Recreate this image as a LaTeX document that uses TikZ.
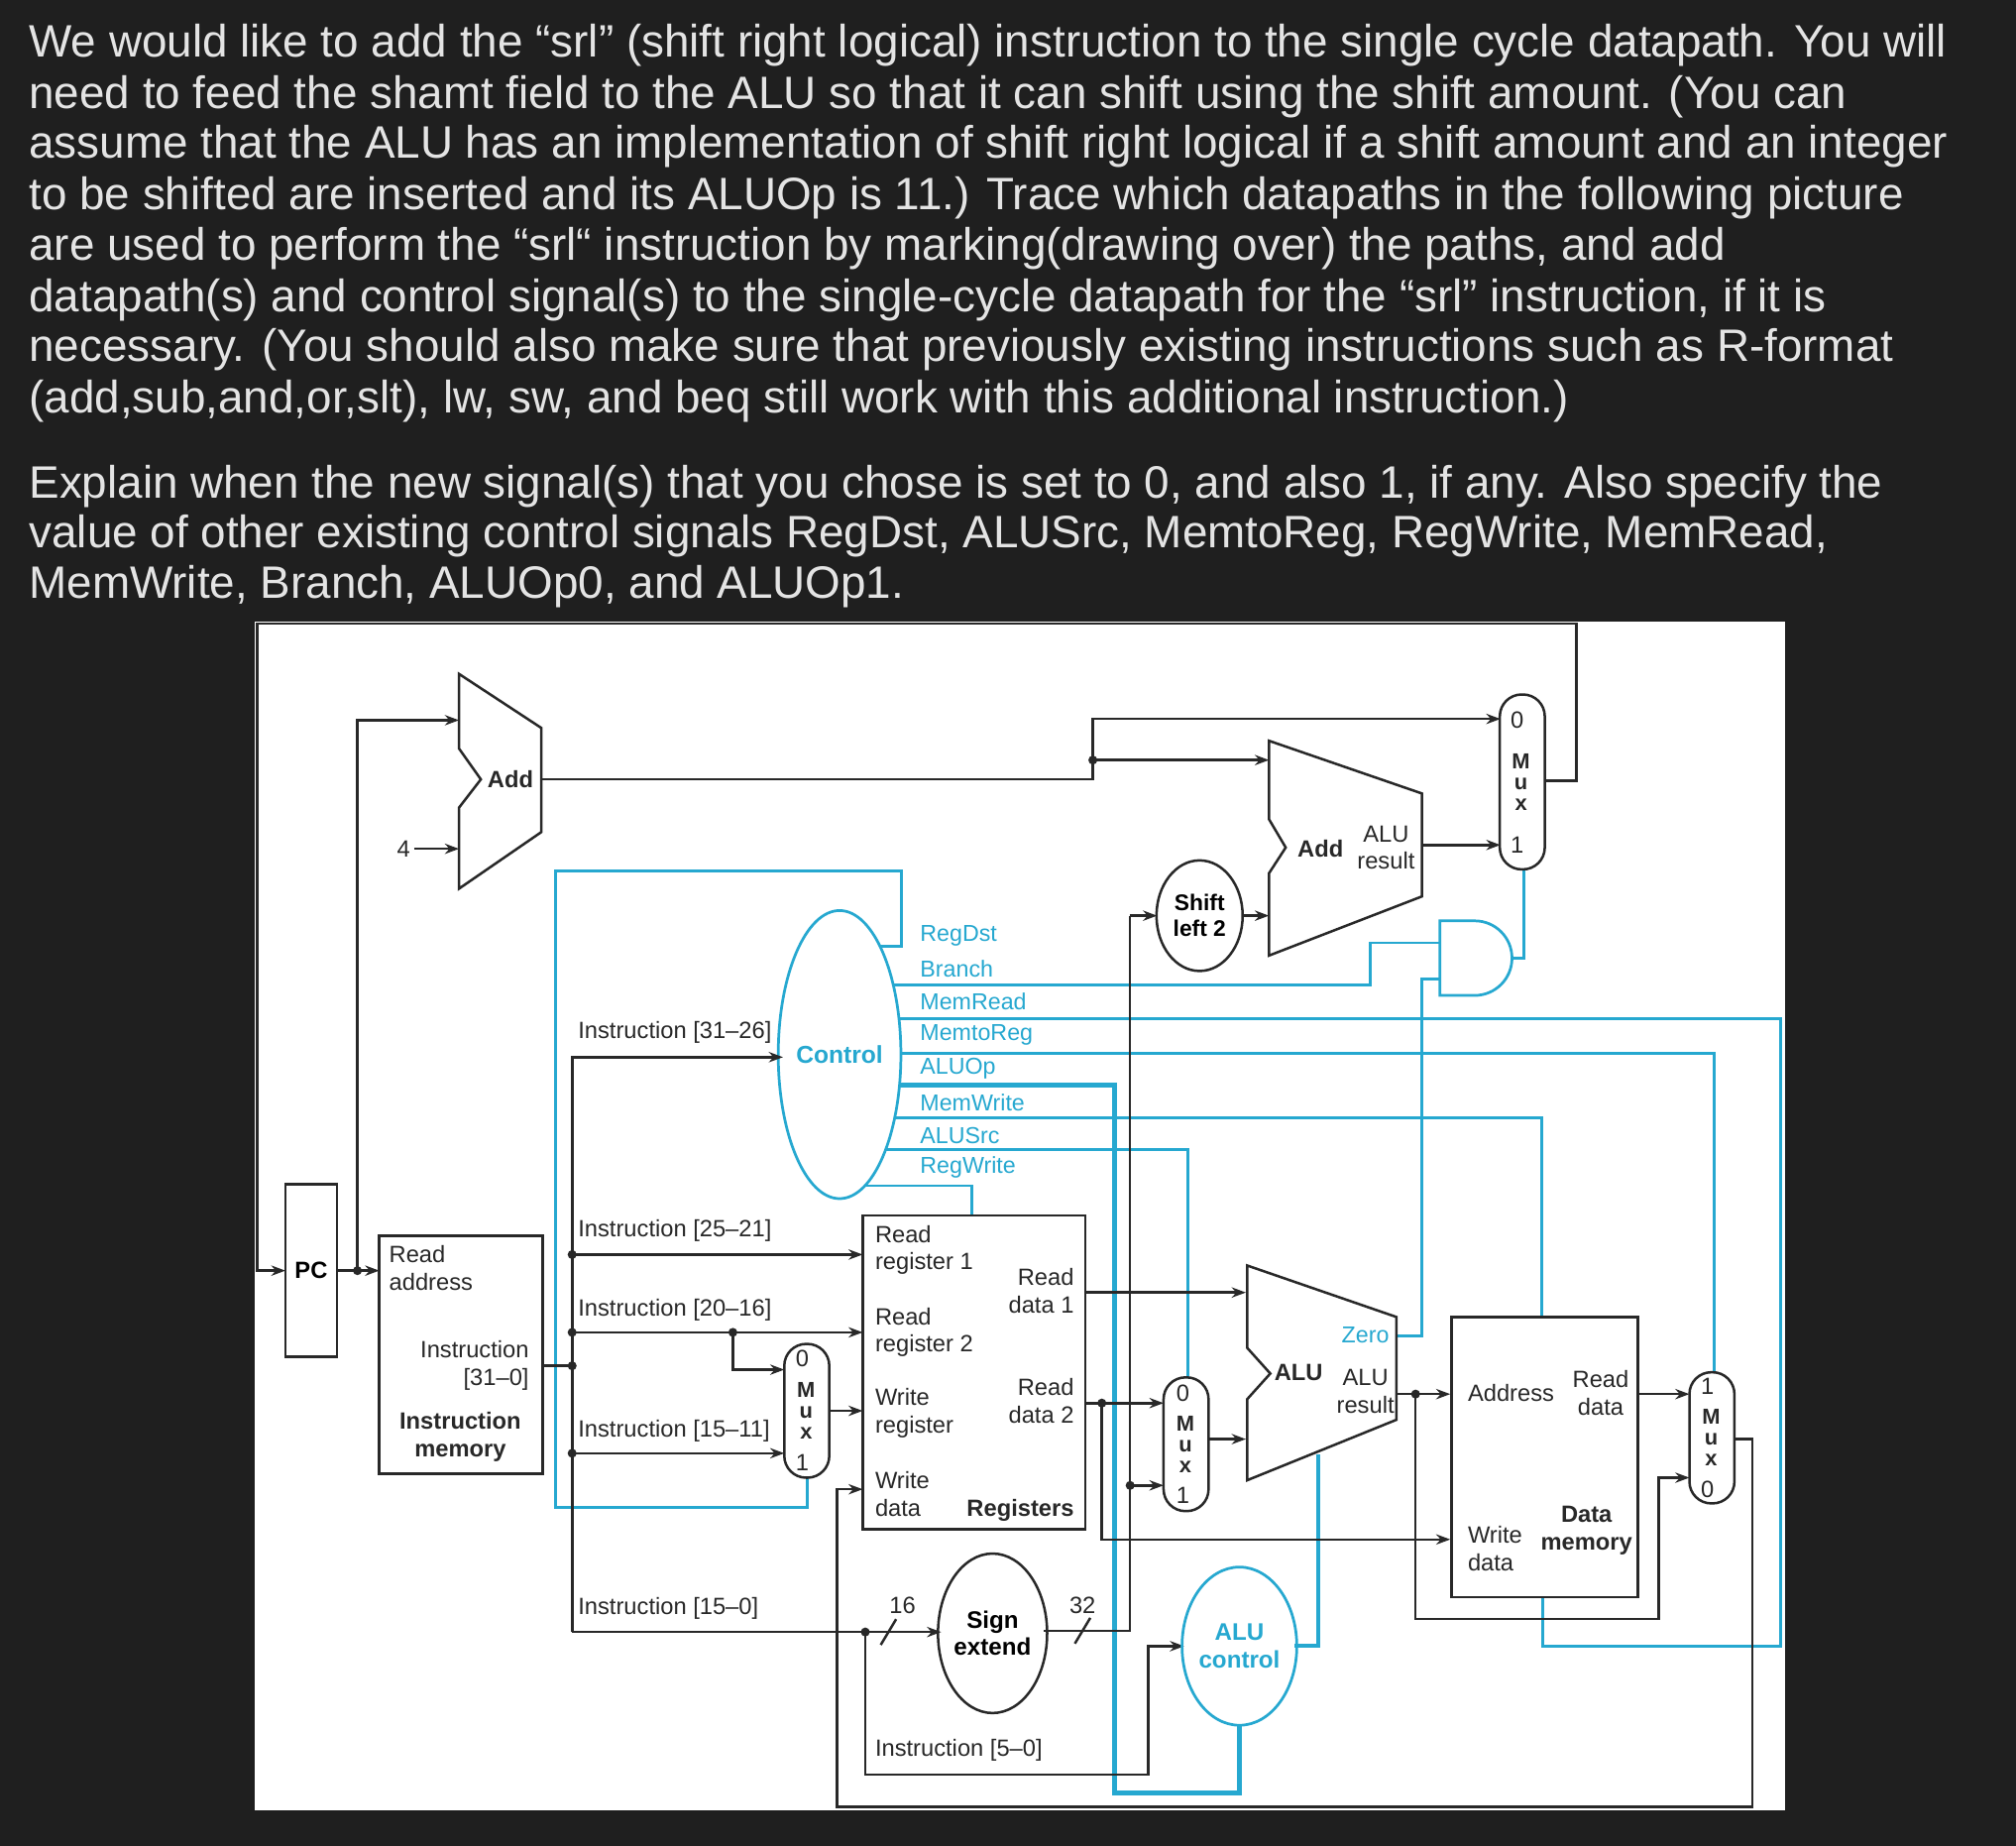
\documentclass[tikz,border=0pt]{standalone}
\usepackage{fontspec}
\setmainfont{Liberation Sans}
\usetikzlibrary{arrows.meta,shapes.geometric}
\definecolor{bg}{RGB}{31,31,31}
\definecolor{txt}{RGB}{228,228,228}
\definecolor{ctl}{RGB}{38,168,208}
\definecolor{wire}{RGB}{40,40,40}
\tikzset{
  ln/.style={draw=wire,line width=0.55pt},
  bl/.style={draw=ctl,line width=0.6pt},
  bthick/.style={draw=ctl,line width=1.1pt},
  arr/.style={-{Stealth[length=1.1mm,width=0.8mm]}},
  lbl/.style={font=\fontsize{5.2}{6.1}\selectfont,inner sep=0pt,text=wire},
  clbl/.style={font=\fontsize{5.1}{6}\selectfont,inner sep=0pt,text=ctl},
  para/.style={font=\fontsize{10.05}{12}\selectfont,text=txt,inner sep=0pt,anchor=west},
  muxbox/.style={draw=wire,line width=0.55pt,rounded corners=1.7mm,fill=white,minimum width=3.5mm,inner sep=0pt},
  dotc/.style={fill=wire}
}
\begin{document}
\begin{tikzpicture}[x=0.1mm,y=-0.1mm]
\fill[bg] (0,0) rectangle (1568,1435);
\useasboundingbox (0,0) rectangle (1568,1435);
% paragraph
\node[para] (p1) at (22,35) {We would like to add the “srl” (shift right logical) instruction to the single cycle datapath. You will};
\node[para] (p2) at (22,75) {need to feed the shamt field to the ALU so that it can shift using the shift amount. (You can};
\node[para] (p3) at (22,114) {assume that the ALU has an implementation of shift right logical if a shift amount and an integer};
\node[para] (p4) at (22,154) {to be shifted are inserted and its ALUOp is 11.) Trace which datapaths in the following picture};
\node[para] (p5) at (22,193) {are used to perform the “srl“ instruction by marking(drawing over) the paths, and add};
\node[para] (p6) at (22,233) {datapath(s) and control signal(s) to the single-cycle datapath for the “srl” instruction, if it is};
\node[para] (p7) at (22,272) {necessary. (You should also make sure that previously existing instructions such as R-format};
\node[para] (p8) at (22,312) {(add,sub,and,or,slt), lw, sw, and beq still work with this additional instruction.)};
\node[para] (p9) at (22,378) {Explain when the new signal(s) that you chose is set to 0, and also 1, if any. Also specify the};
\node[para] (p10) at (22,417) {value of other existing control signals RegDst, ALUSrc, MemtoReg, RegWrite, MemRead,};
\node[para] (p11) at (22,456) {MemWrite, Branch, ALUOp0, and ALUOp1.};
% panel
\fill[white] (198,483) rectangle (1388,1408);

% ---------- control signal wires (blue) ----------
\draw[bl] (660,736) -- (701,736) -- (701,677) -- (432,677) -- (432,1172) -- (628,1172) -- (628,1149);
\draw[bl] (660,766) -- (1066,766) -- (1066,733) -- (1120,733);
\draw[bl] (660,792) -- (1385,792) -- (1385,1280) -- (1200,1280) -- (1200,1242);
\draw[bl] (660,819) -- (1333,819) -- (1333,1067);
\draw[bthick] (660,844) -- (867,844) -- (867,1394) -- (964,1394) -- (964,1342);
\draw[bl] (660,869) -- (1199,869) -- (1199,1024);
\draw[bl] (660,894) -- (924,894) -- (924,1071);
\draw[bl] (660,922) -- (756,922) -- (756,945);
% AND gate
\draw[bl,fill=white] (1120,716) -- (1147,716) arc[start angle=-90,end angle=90,radius=29] -- (1120,774) -- cycle;
\node[inner sep=0pt] (andg) at (1150,745) {};
\draw[bl] (1176,745) -- (1185,745) -- (1185,676);
\draw[bl] (1086,1039) -- (1106,1039) -- (1106,761) -- (1120,761);
% ALU control out
\draw[bl,line width=0.9pt] (1007,1280) -- (1025,1280) -- (1025,1131);

% Control ellipse
\node[draw=ctl,line width=0.6pt,fill=white,ellipse,minimum width=8.8mm,minimum height=22.4mm,inner sep=0pt,
  font=\bfseries\fontsize{5.4}{6}\selectfont,text=ctl] (ctrl) at (653,820) {Control};
\node[clbl,anchor=west] (sRegDst) at (715,728) {RegDst};
\node[clbl,anchor=west] (sBranch) at (715,753) {Branch};
\node[clbl,anchor=west] (sMemRead) at (715,779) {MemRead};
\node[clbl,anchor=west] (sMemtoReg) at (715,805) {MemtoReg};
\node[clbl,anchor=west] (sALUOp) at (715,831) {ALUOp};
\node[clbl,anchor=west] (sMemWrite) at (715,857) {MemWrite};
\node[clbl,anchor=west] (sALUSrc) at (715,883) {ALUSrc};
\node[clbl,anchor=west] (sRegWrite) at (715,908) {RegWrite};

% ---------- PC and adders ----------
\node[draw=wire,line width=0.55pt,minimum width=4mm,minimum height=13.4mm,inner sep=0pt,font=\bfseries\fontsize{5.2}{6}\selectfont] (pc) at (242,988) {PC};
\draw[ln,arr] (1201,607) -- (1226,607) -- (1226,485) -- (200,485) -- (200,988) -- (222,988);
\draw[ln,arr] (262,988) -- (295,988);
\fill[dotc] (278,988) circle[radius=0.35mm];
\draw[ln,arr] (278,988) -- (278,560) -- (357,560);
% Add PC+4
\draw[ln] (357,524) -- (421,566) -- (421,647) -- (357,691) -- (357,628) -- (374,606) -- (357,582) -- cycle;
\node[lbl,font=\bfseries\fontsize{5.2}{6}\selectfont] (add1) at (397,606) {Add};
\node[lbl] (four) at (314,660) {4};
\draw[ln,arr] (322,660) -- (357,660);
\draw[ln,arr] (421,606) -- (850,606) -- (850,559) -- (1167,559);
\fill[dotc] (850,591) circle[radius=0.35mm];
\draw[ln,arr] (850,591) -- (987,591);
% branch adder
\draw[ln] (987,576) -- (1106,617) -- (1106,697) -- (987,743) -- (987,679) -- (1000,659) -- (987,637) -- cycle;
\node[lbl,font=\bfseries\fontsize{5.2}{6}\selectfont] (add2) at (1027,660) {Add};
\node[lbl,align=center] (add2r) at (1078,659) {ALU\\result};
\draw[ln,arr] (1106,657) -- (1167,657);
% shift left 2
\node[draw=wire,line width=0.55pt,ellipse,minimum width=6.7mm,minimum height=8.6mm,inner sep=0pt,align=center,
  font=\bfseries\fontsize{5}{5.8}\selectfont] (sl2) at (933,712) {Shift\\left 2};
\draw[ln,arr] (967,712) -- (987,712);
% PCSrc mux
\node[muxbox,minimum height=13.6mm] (mpc) at (1184,608) {};
\node[lbl] at (1180,560) {0};
\node[lbl,align=center,font=\bfseries\fontsize{4.8}{4.6}\selectfont] at (1183,608) {M\\u\\x};
\node[lbl] at (1180,657) {1};

% ---------- instruction memory ----------
\draw[ln] (295,961) rectangle (422,1146);
\node[lbl,anchor=west,align=left] (ra) at (302,986) {Read\\address};
\node[lbl,anchor=east,align=right] (i310) at (412,1062) {Instruction\\{}[31--0]};
\node[lbl,align=center,font=\bfseries\fontsize{5.2}{6.1}\selectfont] (imem) at (358,1117) {Instruction\\memory};
\draw[ln] (422,1062) -- (445,1062);
\draw[ln,arr] (445,1269) -- (445,822) -- (609,822);
\foreach \yy in {975.5,1036,1062,1130} \fill[dotc] (445,\yy) circle[radius=0.35mm];
\node[lbl,anchor=west] at (449,803) {Instruction [31--26]};
\node[lbl,anchor=west] at (449,957) {Instruction [25--21]};
\node[lbl,anchor=west] at (449,1019) {Instruction [20--16]};
\node[lbl,anchor=west] at (449,1113) {Instruction [15--11]};
\node[lbl,anchor=west] at (449,1251) {Instruction [15--0]};
\draw[ln,arr] (445,975.5) -- (671,975.5);
\draw[ln,arr] (445,1036) -- (671,1036);
\fill[dotc] (570,1036) circle[radius=0.35mm];
\draw[ln,arr] (570,1036) -- (570,1065) -- (610,1065);
\draw[ln,arr] (445,1130) -- (610,1130);
% RegDst mux
\node[muxbox,minimum height=10.4mm] (mrd) at (627.5,1097) {};
\node[lbl] at (624,1056) {0};
\node[lbl,align=center,font=\bfseries\fontsize{4.8}{4.6}\selectfont] at (627,1097) {M\\u\\x};
\node[lbl] at (624,1137) {1};
\draw[ln,arr] (645,1097) -- (671,1097);

% ---------- registers ----------
\draw[ln] (671,945) rectangle (844,1189);
\node[lbl,anchor=west,align=left] at (680,972) {Read\\register 1};
\node[lbl,anchor=west,align=left] at (680,1036) {Read\\register 2};
\node[lbl,anchor=west,align=left] at (680,1099) {Write\\register};
\node[lbl,anchor=west,align=left] at (680,1162) {Write\\data};
\node[lbl,anchor=east,align=right] at (836,1004) {Read\\data 1};
\node[lbl,anchor=east,align=right] at (836,1089) {Read\\data 2};
\node[lbl,anchor=east,font=\bfseries\fontsize{5.2}{6.1}\selectfont] (regs) at (836,1174) {Registers};
\draw[ln,arr] (844,1005) -- (969,1005);
\draw[ln,arr] (844,1091) -- (905,1091);
\fill[dotc] (857,1091) circle[radius=0.35mm];
\draw[ln,arr] (857,1091) -- (857,1197) -- (1128,1197);
\draw[ln,arr] (1349,1119) -- (1363,1119) -- (1363,1405) -- (651,1405) -- (651,1158) -- (671,1158);

% ---------- sign extend ----------
\node[draw=wire,line width=0.55pt,ellipse,minimum width=8mm,minimum height=12.4mm,inner sep=0pt,align=center,
  font=\bfseries\fontsize{5.3}{6}\selectfont] (sext) at (772,1270) {Sign\\extend};
\draw[ln,arr] (445,1269) -- (732,1269);
\fill[dotc] (673,1269) circle[radius=0.35mm];
\draw[ln] (685,1279) -- (697,1259);
\node[lbl] at (702,1248) {16};
\draw[ln] (812,1268) -- (879,1268) -- (879,712);
\draw[ln,arr] (879,712) -- (900,712);
\draw[ln] (836,1278) -- (848,1258);
\node[lbl] at (842,1248) {32};
\fill[dotc] (879,1155) circle[radius=0.35mm];
\draw[ln,arr] (879,1155) -- (905,1155);
\draw[ln,arr] (673,1269) -- (673,1380) -- (893,1380) -- (893,1280) -- (921,1280);
\node[lbl,anchor=west] at (680,1361) {Instruction [5--0]};
% ALU control
\node[draw=ctl,line width=0.6pt,ellipse,minimum width=8.6mm,minimum height=12.3mm,inner sep=0pt,align=center,
  text=ctl,font=\bfseries\fontsize{5.3}{6}\selectfont] (aluc) at (964,1280) {ALU\\control};

% ALUSrc mux
\node[muxbox,minimum height=10.4mm] (mas) at (922.5,1123) {};
\node[lbl] at (920,1083) {0};
\node[lbl,align=center,font=\bfseries\fontsize{4.8}{4.6}\selectfont] at (922,1123) {M\\u\\x};
\node[lbl] at (920,1163) {1};
\draw[ln,arr] (940,1119) -- (969,1119);

% ---------- ALU ----------
\draw[ln] (970,984) -- (1086,1024) -- (1086,1104) -- (970,1151) -- (970,1088) -- (988,1068) -- (970,1048) -- cycle;
\node[lbl,font=\bfseries\fontsize{5.2}{6}\selectfont] (alu) at (1010,1067) {ALU};
\node[lbl,align=center] (alur) at (1062,1082) {ALU\\result};
\node[clbl] (zero) at (1062,1038) {Zero};
\draw[ln,arr] (1086,1084) -- (1128,1084);
\fill[dotc] (1101,1084) circle[radius=0.35mm];
\draw[ln,arr] (1101,1084) -- (1101,1259) -- (1290,1259) -- (1290,1149) -- (1314,1149);

% ---------- data memory ----------
\draw[ln] (1129,1024) rectangle (1274,1242);
\node[lbl,anchor=west] at (1141,1083) {Address};
\node[lbl,align=center] at (1245,1083) {Read\\data};
\node[lbl,anchor=west,align=left] at (1141,1204) {Write\\data};
\node[lbl,align=center,font=\bfseries\fontsize{5.2}{6.1}\selectfont] (dmem) at (1234,1190) {Data\\memory};
\draw[ln,arr] (1274,1084) -- (1314,1084);
% MemtoReg mux
\node[muxbox,minimum height=10.2mm] (mm) at (1331.5,1118) {};
\node[lbl] at (1328,1078) {1};
\node[lbl,align=center,font=\bfseries\fontsize{4.8}{4.6}\selectfont] at (1331,1118) {M\\u\\x};
\node[lbl] at (1328,1158) {0};
\end{tikzpicture}
\end{document}
